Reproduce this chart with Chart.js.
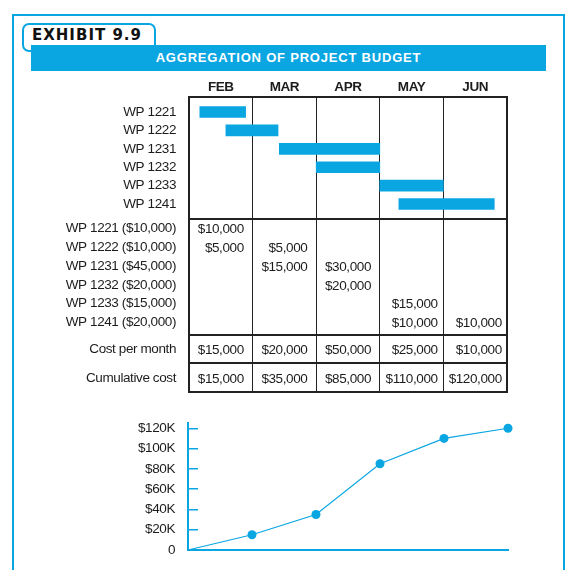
<!DOCTYPE html>
<html>
<head>
<meta charset="utf-8">
<title>Exhibit 9.9</title>
<script src="https://cdn.jsdelivr.net/npm/chart.js@4.4.1/dist/chart.umd.min.js"></script>
<style>
  body { margin: 0; width: 577px; height: 570px; background: #fff; position: relative; overflow: hidden; }
  .frame { position: absolute; left: 12px; top: 14px; width: 549px; height: 600px; border: 2px solid #0aa6e2; }
  .tab { position: absolute; left: 22px; top: 23px; width: 130px; height: 25px; border: 2px solid #0aa6e2; border-radius: 7px; background: #fff; }
  .tab span { position: absolute; left: 8px; top: 3px; font: bold 15px "DejaVu Sans", sans-serif; line-height: 15px; letter-spacing: 1px; color: #111; }
  .title { position: absolute; left: 31px; top: 45px; width: 515px; height: 26px; background: #0aa6e2; color: #fff;
           font: bold 13px "Liberation Sans", Arial, sans-serif; letter-spacing: 0.8px; text-align: center; line-height: 26px; }
  #tableWrap { position: absolute; left: 0; top: 75px; width: 577px; height: 325px; }
  #lineWrap { position: absolute; left: 0; top: 405px; width: 577px; height: 165px; }
</style>
</head>
<body>
<div class="frame"></div>
<div class="tab"><span>EXHIBIT 9.9</span></div>
<div class="title">AGGREGATION OF PROJECT BUDGET</div>
<div id="tableWrap"><canvas id="budgetTable"></canvas></div>
<div id="lineWrap"><canvas id="cumulativeChart"></canvas></div>

<script>
// months and work packages
var months = ['FEB', 'MAR', 'APR', 'MAY', 'JUN'];
var packages = ['WP 1221', 'WP 1222', 'WP 1231', 'WP 1232', 'WP 1233', 'WP 1241'];
var packageBudgets = [10000, 10000, 45000, 20000, 15000, 20000];

// gantt bars, in months from the start of FEB
var barStart = [0.17, 0.58, 1.42, 2.0, 3.0, 3.3];
var barEnd = [0.89, 1.40, 3.0, 3.0, 4.0, 4.8];

// cost of each work package per month (one array per month)
var febCosts = [10000, 5000, null, null, null, null];
var marCosts = [null, 5000, 15000, null, null, null];
var aprCosts = [null, null, 30000, 20000, null, null];
var mayCosts = [null, null, null, null, 15000, 10000];
var junCosts = [null, null, null, null, null, 10000];
var costPerMonth = [15000, 20000, 50000, 25000, 10000];
var cumulativeCost = [15000, 35000, 85000, 110000, 120000];

// y axis of the cumulative chart
var yTickValues = [0, 20000, 40000, 60000, 80000, 100000, 120000];
var yTickLabels = ['0', '$20K', '$40K', '$60K', '$80K', '$100K', '$120K'];

var BLUE = '#0aa6e2';
var INK = '#1c1c1c';
var FONT = "'Liberation Sans', Arial, sans-serif";
var TEXT_SIZE = 13.5;

// vertical slots of the table (row units from the top of the box)
var ganttSlots = [0.8, 1.8, 2.8, 3.8, 4.8, 5.8];
var costSlots = [7.1, 8.13, 9.16, 10.19, 11.22, 12.25];
var sumSlots = [13.68, 15.26];
var ruleSlots = [6.61, 12.9, 14.42];

function money(v) {
    return '$' + v.toLocaleString('en-US');
}

var monthCosts = [febCosts, marCosts, aprCosts, mayCosts, junCosts];
var costLabels = packages.map(function (p, i) { return p + ' (' + money(packageBudgets[i]) + ')'; });
var rowLabels = packages.concat(costLabels, ['Cost per month', 'Cumulative cost']);
var rowSlots = ganttSlots.concat(costSlots, sumSlots);

// tighter letters, the original uses a condensed face
var narrowText = {
    id: 'narrowText',
    beforeDraw: function (chart) { chart.ctx.letterSpacing = '-0.4px'; }
};

// keep the left axis from pushing the plot area in
function fixLeftAxis(width) {
    return function (s) {
        s.width = width;
        s.paddingTop = 0;
        s.paddingBottom = 0;
    };
}

// writes the dollar amounts into the cells
var cellText = {
    id: 'cellText',
    afterDatasetsDraw: function (chart) {
        var ctx = chart.ctx;
        var x = chart.scales.x, y = chart.scales.y;
        ctx.save();
        ctx.font = TEXT_SIZE + 'px ' + FONT;
        ctx.fillStyle = INK;
        ctx.textAlign = 'right';
        ctx.textBaseline = 'middle';
        for (var m = 0; m < months.length; m++) {
            var texts = [];
            monthCosts[m].forEach(function (v, i) { if (v !== null) texts.push([money(v), costSlots[i]]); });
            texts.push([money(costPerMonth[m]), sumSlots[0]]);
            texts.push([money(cumulativeCost[m]), sumSlots[1]]);
            // numbers are right aligned in a block centred in the column
            var widest = 0;
            texts.forEach(function (t) { widest = Math.max(widest, ctx.measureText(t[0]).width); });
            var right = x.getPixelForValue(m + 0.5) + widest / 2;
            texts.forEach(function (t) { ctx.fillText(t[0], right, y.getPixelForValue(t[1]) + 1); });
        }
        ctx.restore();
    }
};

new Chart(document.getElementById('budgetTable'), {
    type: 'bar',
    data: {
        datasets: [{
            data: packages.map(function (p, i) { return { x: [barStart[i], barEnd[i]], y: ganttSlots[i] }; }),
            xAxisID: 'x',
            yAxisID: 'y',
            backgroundColor: BLUE,
            borderWidth: 0,
            barThickness: 11,
            clip: false
        }]
    },
    options: {
        indexAxis: 'y',
        animation: false,
        responsive: true,
        maintainAspectRatio: false,
        layout: { padding: 0 },
        plugins: { legend: { display: false }, tooltip: { enabled: false } },
        scales: {
            x: {
                type: 'linear', position: 'bottom', min: 0, max: 5,
                ticks: { display: false, stepSize: 1 },
                grid: { color: '#222', lineWidth: 1, drawTicks: false },
                border: { color: '#222', width: 2 },
                afterFit: function (s) { s.height = 8.3; }
            },
            x2: {
                type: 'category', axis: 'x', position: 'top', labels: months, offset: true,
                grid: { display: false, drawTicks: false },
                border: { color: '#222', width: 2 },
                ticks: { color: INK, padding: 2, font: { family: FONT, size: 13.5, weight: 'bold' } },
                afterFit: function (s) { s.height = 22.3; }
            },
            y: {
                type: 'linear', position: 'left', reverse: true, min: 0, max: 16, offset: false,
                afterBuildTicks: function (s) { s.ticks = rowSlots.map(function (v) { return { value: v }; }); },
                ticks: {
                    color: INK, padding: 13, font: { family: FONT, size: TEXT_SIZE },
                    callback: function (v, i) { return rowLabels[i]; }
                },
                grid: { display: false, drawTicks: false, offset: false },
                border: { color: '#222', width: 2 },
                afterFit: fixLeftAxis(189)
            },
            yLines: {
                type: 'linear', axis: 'y', position: 'right', reverse: true, min: 0, max: 16, offset: false,
                afterBuildTicks: function (s) { s.ticks = ruleSlots.map(function (v) { return { value: v }; }); },
                ticks: { display: false },
                grid: { color: '#222', lineWidth: 2, drawTicks: false, offset: false },
                border: { color: '#222', width: 2 },
                afterFit: function (s) { s.width = 70; }
            }
        }
    },
    plugins: [narrowText, cellText]
});

// cumulative cost curve starts at zero before FEB
var curve = [0].concat(cumulativeCost);

new Chart(document.getElementById('cumulativeChart'), {
    type: 'line',
    data: {
        datasets: [{
            data: curve.map(function (v, i) { return { x: i, y: v }; }),
            borderColor: BLUE,
            borderWidth: 1.2,
            backgroundColor: BLUE,
            pointBackgroundColor: BLUE,
            pointBorderWidth: 0,
            pointRadius: function (c) { return c.dataIndex === 0 ? 0 : 4.5; },
            tension: 0,
            clip: false
        }]
    },
    options: {
        animation: false,
        responsive: true,
        maintainAspectRatio: false,
        layout: { padding: { top: 18.2, right: 69, left: 0, bottom: 0 } },
        plugins: { legend: { display: false }, tooltip: { enabled: false } },
        scales: {
            x: {
                type: 'linear', min: 0, max: 5,
                ticks: { display: false },
                grid: { display: false, drawTicks: false },
                border: { color: BLUE, width: 2 },
                afterFit: function (s) { s.height = 20; }
            },
            y: {
                min: 0, max: 125000,
                afterBuildTicks: function (s) { s.ticks = yTickValues.map(function (v) { return { value: v }; }); },
                ticks: {
                    color: INK, padding: 23, font: { family: FONT, size: TEXT_SIZE },
                    callback: function (v, i) { return yTickLabels[i]; }
                },
                grid: { drawOnChartArea: false, tickLength: -10, color: BLUE, lineWidth: 1.5 },
                border: { color: BLUE, width: 2 },
                afterFit: fixLeftAxis(188)
            }
        }
    },
    plugins: [narrowText]
});
</script>
</body>
</html>
